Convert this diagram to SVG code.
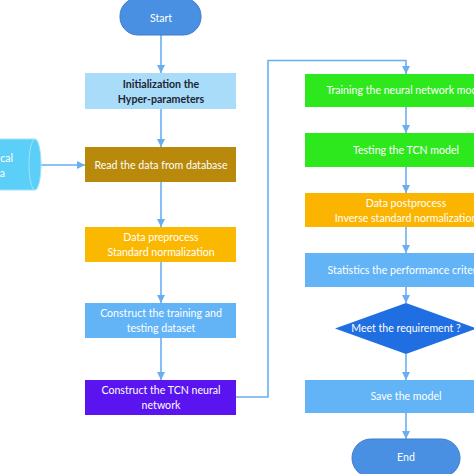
<svg xmlns="http://www.w3.org/2000/svg" width="474" height="474" viewBox="0 0 474 474">
<defs>
<style>
.t{font-family:Lato,"Liberation Sans",sans-serif;font-size:10.6px;fill:#ffffff;text-anchor:middle}
.d{fill:#1c2533;font-weight:bold}
.c{fill:none;stroke:#6aaef0;stroke-width:1.6}
</style>
<marker id="ah" markerWidth="10" markerHeight="10" refX="8" refY="4" orient="auto" markerUnits="userSpaceOnUse">
<path d="M0,0 L8,4 L0,8 Z" fill="#6aaef0"/>
</marker>
</defs>
<rect width="474" height="474" fill="#ffffff"/>
<g id="connectors">
<path class="c" d="M161,35 V73" marker-end="url(#ah)"/>
<path class="c" d="M161,109 V147" marker-end="url(#ah)"/>
<path class="c" d="M41,165 H85" marker-end="url(#ah)"/>
<path class="c" d="M161,182 V227" marker-end="url(#ah)"/>
<path class="c" d="M161,262 V303" marker-end="url(#ah)"/>
<path class="c" d="M161,338 V380" marker-end="url(#ah)"/>
<path class="c" d="M236,397 H268 V60.5 H406 V74" marker-end="url(#ah)"/>
<path class="c" d="M406,107 V133" marker-end="url(#ah)"/>
<path class="c" d="M406,167 V193" marker-end="url(#ah)"/>
<path class="c" d="M406,227 V253" marker-end="url(#ah)"/>
<path class="c" d="M406,287 V303" marker-end="url(#ah)"/>
<path class="c" d="M406,354 V380" marker-end="url(#ah)"/>
<path class="c" d="M406,413 V439" marker-end="url(#ah)"/>
</g>
<g id="start">
<rect x="120" y="-2" width="81" height="37" rx="18" fill="#4a90e2" stroke="#3b7bd0" stroke-width="1"/>
<text class="t" x="161" y="22">Start</text>
</g>
<g id="init">
<rect x="85" y="73" width="151" height="36" fill="#a9dcf8"/>
<text class="t d" x="161" y="88">Initialization the</text>
<text class="t d" x="161" y="103">Hyper-parameters</text>
</g>
<g id="historical">
<path d="M-70,139 H35 A6,25.5 0 0 1 35,190 H-70 Z" fill="#5bcff7" stroke="#9fe3fb" stroke-width="1"/>
<path d="M35,139 A6,25.5 0 0 0 35,190" fill="none" stroke="#9fe3fb" stroke-width="1"/>
<text class="t" x="-9" y="162">Historical</text>
<text class="t" x="-5" y="177">data</text>
</g>
<g id="read">
<rect x="85" y="147" width="151" height="35" fill="#b8890a"/>
<text class="t" x="161" y="169">Read the data from database</text>
</g>
<g id="preprocess">
<rect x="85" y="227" width="151" height="35" fill="#fbb800"/>
<text class="t" x="161" y="241">Data preprocess</text>
<text class="t" x="161" y="256">Standard normalization</text>
</g>
<g id="dataset">
<rect x="85" y="303" width="151" height="35" fill="#62b4f7"/>
<text class="t" x="161" y="317">Construct the training and</text>
<text class="t" x="161" y="332">testing dataset</text>
</g>
<g id="tcn">
<rect x="85" y="380" width="151" height="35" fill="#5a14ef"/>
<text class="t" x="161" y="394">Construct the TCN neural</text>
<text class="t" x="161" y="409">network</text>
</g>
<g id="training">
<rect x="305" y="74" width="203" height="33" fill="#2ee81e"/>
<text class="t" x="406" y="94">Training the neural network model</text>
</g>
<g id="testing">
<rect x="305" y="133" width="203" height="34" fill="#2ee81e"/>
<text class="t" x="406" y="154">Testing the TCN model</text>
</g>
<g id="postprocess">
<rect x="305" y="193" width="203" height="34" fill="#fbb400"/>
<text class="t" x="406" y="207">Data postprocess</text>
<text class="t" x="406" y="222">Inverse standard normalization</text>
</g>
<g id="statistics">
<rect x="305" y="253" width="203" height="34" fill="#62b4f7"/>
<text class="t" x="406" y="274">Statistics the performance criteria</text>
</g>
<g id="decision">
<polygon points="406,303 477,328.5 406,354 335,328.5" fill="#1f6fe3"/>
<text class="t" x="406" y="332">Meet the requirement ?</text>
</g>
<g id="save">
<rect x="305" y="380" width="203" height="33" fill="#62b4f7"/>
<text class="t" x="406" y="400">Save the model</text>
</g>
<g id="end">
<rect x="352" y="439" width="108" height="38" rx="19" fill="#4a90e2" stroke="#3b7bd0" stroke-width="1"/>
<text class="t" x="406" y="461">End</text>
</g>
</svg>
